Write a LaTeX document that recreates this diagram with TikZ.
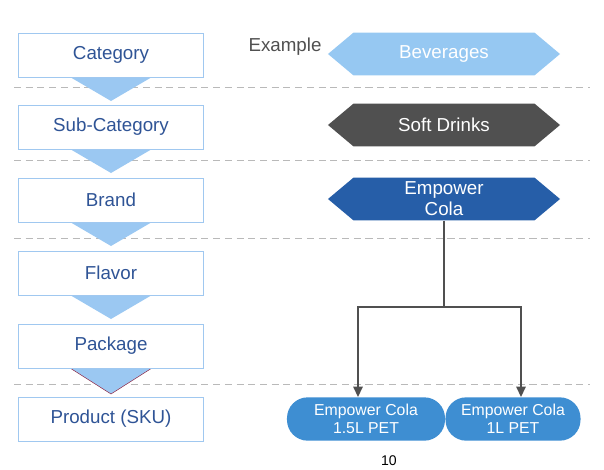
\documentclass[tikz,border=0pt]{standalone}
\usepackage{fontspec}
\setmainfont{Liberation Sans}
\usetikzlibrary{arrows.meta, positioning, shapes.symbols}
\definecolor{lvl_text}{RGB}{47, 84, 150}
\definecolor{lvl_edge}{RGB}{160, 200, 240}
\definecolor{lvl_tri}{RGB}{155, 200, 242}
\definecolor{hex_light}{RGB}{150, 200, 242}
\definecolor{hex_dark}{RGB}{80, 80, 80}
\definecolor{hex_blue}{RGB}{38, 94, 168}
\definecolor{sku_blue}{RGB}{62, 142, 210}
\definecolor{tri_red}{RGB}{140, 30, 60}
\begin{document}
\begin{tikzpicture}[x=0.03cm, y=-0.03cm,
        lvl/.style={draw=lvl_edge, thick, fill=white, minimum width=5.55cm,
                    minimum height=1.32cm, font=\fontsize{16}{18}\selectfont, text=lvl_text},
        hex/.style={signal, signal to=east and west, signal pointer angle=80,
                    minimum width=6.96cm, minimum height=1.28cm, text=white,
                    font=\fontsize{16}{18}\selectfont, align=center, inner sep=1pt},
        sku/.style={rounded corners=0.62cm, fill=sku_blue, text=white, minimum height=1.3cm,
                    font=\fontsize{13.5}{15}\selectfont, align=center},
        sep/.style={dashed, gray!55, thick, dash pattern=on 6pt off 4pt},
        arr/.style={-{Triangle[length=9pt, width=8pt]}, hex_dark, line width=1.6pt},
      ]
        \useasboundingbox (0,0) rectangle (604,470);

        % dashed separators
        \foreach \y in {87, 160, 238, 384}
          \draw[sep] (14,\y) -- (590,\y);

        % triangles between levels
        \foreach \t in {77, 149, 222, 295}
          \fill[lvl_tri] (70,\t) -- (152,\t) -- (111,\t+24) -- cycle;
        \filldraw[fill=lvl_tri, draw=tri_red] (70,368) -- (152,368) -- (111,394) -- cycle;

        % levels
        \foreach \i/\y/\txt in {1/55/Category, 2/127/Sub-Category, 3/200/Brand,
                                4/273/Flavor, 5/346/Package, 6/419/Product (SKU)}
          \node[lvl] (l\i) at (111,\y) {\txt};

        \node[font=\fontsize{16}{18}\selectfont, text=hex_dark] (ex) at (285,47) {Example};

        \node[hex, fill=hex_light] (bev) at (444,54) {Beverages};
        \node[hex, fill=hex_dark]  (soft) at (444,125) {Soft Drinks};
        \node[hex, fill=hex_blue]  (cola) at (444,199) {Empower\\Cola};

        \node[sku, minimum width=4.74cm] (p15) at (366,419) {Empower Cola\\1.5L PET};
        \node[sku, minimum width=4.05cm] (p1)  at (513,419) {Empower Cola\\1L PET};

        \coordinate (split) at (444,307);
        \draw[hex_dark, line width=1.6pt] (cola.south) -- (split);
        \draw[arr] (split) -| ([xshift=-0.24cm]p15.north);
        \draw[arr] (split) -| ([xshift=0.24cm]p1.north);

        \node[font=\fontsize{12}{14}\selectfont] (page) at (389,461) {10};
      \end{tikzpicture}
\end{document}
